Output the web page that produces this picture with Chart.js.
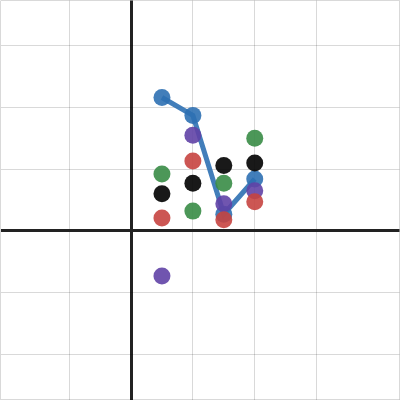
<!DOCTYPE html>
<html><head><script src="https://cdn.jsdelivr.net/npm/chart.js"></script>
<style>html,body{margin:0;padding:0;background:#fff;overflow:hidden}#o{width:400px;height:400px;overflow:hidden;position:relative}#w{position:absolute;left:-8px;top:-8px;width:416px;height:416px}</style></head>
<body><div id="o"><div id="w"><canvas id="c"></canvas></div></div>
<script>
const xs = [0.5, 1, 1.5, 2];
const green = [0.92, 0.32, 0.77, 1.5];
const black = [0.6, 0.77, 1.06, 1.1];
const red = [0.21, 1.13, 0.18, 0.47];
const purple = [-0.73, 1.55, 0.44, 0.65];
const blue = [2.16, 1.87, 0.27, 0.84];
const pts = ys => xs.map((x, i) => ({x, y: ys[i]}));
const ds = (ys, col, line) => ({data: pts(ys), backgroundColor: col, borderColor: col, pointRadius: 8.5,
  pointHoverRadius: 8.5, pointBorderWidth: 0, showLine: !!line, borderWidth: 5});
const gridCol = ctx => ctx.tick.value === 0 ? '#222' : 'rgba(0,0,0,0.15)';
const gridW = ctx => ctx.tick.value === 0 ? 3 : 1;
new Chart(document.getElementById('c'), {
  type: 'scatter',
  data: {datasets: [
    ds(red, 'rgba(199,68,64,0.9)'),
    ds(green, 'rgba(56,140,70,0.9)'),
    ds(black, 'rgba(0,0,0,0.9)'),
    ds(purple, 'rgba(96,66,166,0.9)'),
    ds(blue, 'rgba(45,112,179,0.9)', true)
  ]},
  options: {
    responsive: true, maintainAspectRatio: false, animation: false,
    layout: {padding: 0},
    plugins: {legend: {display: false}, tooltip: {enabled: false}},
    scales: {
      x: {type: 'linear', min: -2.11, max: 4.34, border: {display: false},
        ticks: {display: false, stepSize: 1}, grid: {color: gridCol, lineWidth: gridW, drawTicks: false, tickLength: 0}},
      y: {type: 'linear', min: -2.73, max: 3.73, border: {display: false},
        ticks: {display: false, stepSize: 1}, grid: {color: gridCol, lineWidth: gridW, drawTicks: false, tickLength: 0}}
    }
  }
});
</script></body></html>
